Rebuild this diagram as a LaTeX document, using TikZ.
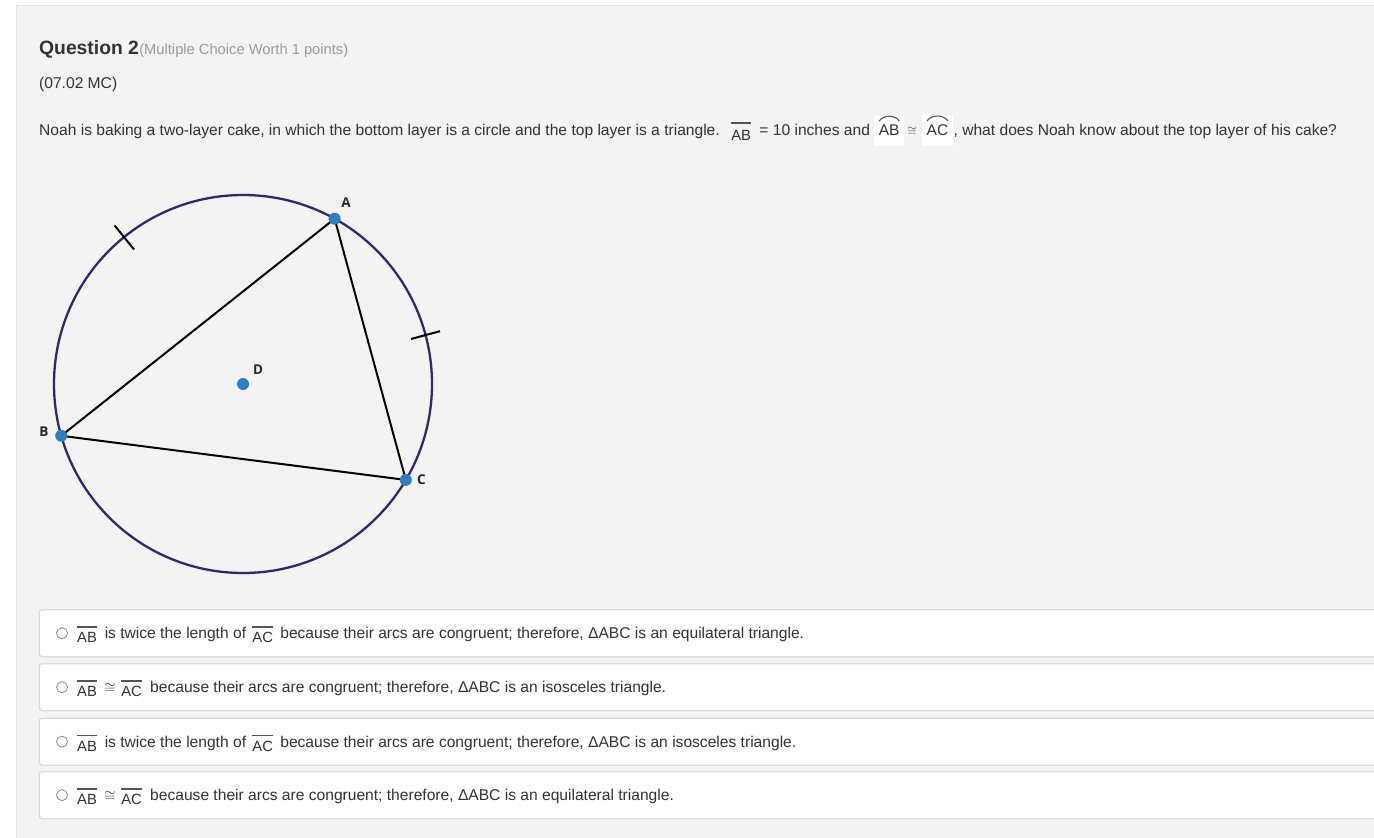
\documentclass[tikz,border=0pt]{standalone}
\usepackage{fontspec}
\setmainfont{Liberation Sans}
\newfontfamily\lblfont{Open Sans}
\usetikzlibrary{calc}
\definecolor{panel}{HTML}{F3F3F3}
\definecolor{panelline}{HTML}{E2E2E2}
\definecolor{txt}{HTML}{333333}
\definecolor{subtxt}{HTML}{9A9A9A}
\definecolor{ring}{HTML}{2C2A6B}
\definecolor{dotc}{HTML}{2F7DC2}
\definecolor{boxline}{HTML}{DADADA}
\definecolor{segbar}{HTML}{555555}
\definecolor{radioc}{HTML}{8A8A8A}
% segment with overline: {lowering}{rule height}{letters}
\newcommand\ovseg[3]{\raisebox{-#1pt}{\fontsize{14.8}{16}\selectfont\setbox0\hbox{#3}\rlap{\color{segbar}\rule[#2pt]{\wd0}{1.2pt}}\box0}}
\newcommand\cgr{{\fontsize{13}{14}\selectfont$\cong$}}
\newcommand\cgrbig{{\fontsize{15}{16}\selectfont$\cong$}}
\newcommand\ansAB{\ovseg{4}{15}{AB}}
\newcommand\ansAC{\ovseg{4}{15}{AC}}
\tikzset{
  plain/.style={anchor=base west, inner sep=0pt, text=txt, font=\fontsize{15.6}{18}\selectfont},
  arcbox/.style={anchor=base west, fill=white, inner xsep=4.5pt, inner ysep=0pt, text height=20pt, text depth=11pt, text=txt, font=\fontsize{15.5}{18}\selectfont},
  arcmark/.style={draw=segbar, line width=1.1pt},
  answerbox/.style={draw=boxline, fill=white, line width=1.3pt, rounded corners=3pt, anchor=north west, minimum width=1360pt, minimum height=47pt, inner sep=0pt},
  radio/.style={circle, draw=radioc, fill=white, line width=0.8pt, minimum size=11pt, inner sep=0pt},
  ring/.style={draw=ring, line width=2.3pt},
  side/.style={draw=black, line width=2pt},
  tick/.style={draw=black, line width=2pt},
  pt/.style={circle, fill=dotc, minimum size=12pt, inner sep=0pt},
  lbl/.style={text=black!85, font=\lblfont\bfseries\fontsize{13.5}{14}\selectfont, inner sep=0pt}
}
\begin{document}
\begin{tikzpicture}[x=1pt,y=1pt]
\useasboundingbox (0,0) rectangle (1374,-838);
\fill[white] (0,0) rectangle (1374,-838);
\clip (0,0) rectangle (1374,-838);
\filldraw[fill=panel, draw=panelline, line width=1pt] (16,-5.5) rectangle (1400,-860);

% header
\node[plain, font=\fontsize{19.3}{22}\selectfont\bfseries] (title) at (39,-54) {Question 2};
\node[plain, text=subtxt, font=\fontsize{14.7}{16}\selectfont] (worth) at (title.base east) {(Multiple Choice Worth 1 points)};
\node[plain] (code) at (39,-88) {(07.02 MC)};

% question line
\node[plain] (q1) at (39,-135) {Noah is baking a two-layer cake, in which the bottom layer is a circle and the top layer is a triangle.};
\node[plain] (q2) at ([xshift=11pt]q1.base east) {\ovseg{5}{16.5}{AB}};
\node[plain] (q3) at ([xshift=8pt]q2.base east) {= 10 inches and};
\node[arcbox] (q4) at ([xshift=4pt]q3.base east) {AB};
\draw[arcmark] ([xshift=5pt,yshift=14pt]q4.base west) to[bend left=55] ([xshift=-5pt,yshift=14pt]q4.base east);
\node[plain] (q5) at ([xshift=3pt]q4.base east) {\cgr};
\node[arcbox] (q6) at ([xshift=5pt]q5.base east) {AC};
\draw[arcmark] ([xshift=5pt,yshift=14pt]q6.base west) to[bend left=55] ([xshift=-5pt,yshift=14pt]q6.base east);
\node[plain] (q7) at ([xshift=0.5pt]q6.base east) {, what does Noah know about the top layer of his cake?};

% figure
\coordinate (D) at (243,-384);
\coordinate (A) at ($(D)+(61:189)$);
\coordinate (B) at ($(D)+(195.9:189)$);
\coordinate (C) at ($(D)+(-30.5:189)$);
\draw[ring] (D) circle[radius=189];
\draw[side] (A) -- (B) -- (C) -- cycle;
\draw[tick] ($(D)+(129:173)$) -- ($(D)+(129:204)$);
\draw[tick] ($(D)+(15:174)$) -- ($(D)+(15:204)$);
\node[pt] (pA) at (A) {};
\node[pt] (pB) at (B) {};
\node[pt] (pC) at (C) {};
\node[pt] (pD) at (D) {};
\node[lbl] (lA) at (346,-203) {A};
\node[lbl] (lB) at (44,-432) {B};
\node[lbl] (lC) at (421.5,-480) {C};
\node[lbl] (lD) at (258,-369.5) {D};

% answers
\node[answerbox] (b1) at (38.5,-609) {};
\node[answerbox] (b2) at (38.5,-663) {};
\node[answerbox] (b3) at (38.5,-717.5) {};
\node[answerbox] (b4) at (38.5,-771) {};
\foreach \i in {1,2,3,4} {
  \node[radio] (r\i) at ([xshift=23.5pt]b\i.west) {};
}
\node[plain] (a1) at ([xshift=38.5pt,yshift=-5.5pt]b1.west) {\ansAB\hspace{3.5pt} is twice the length of\hspace{2pt} \ansAC\hspace{3pt} because their arcs are congruent; therefore, ΔABC is an equilateral triangle.};
\node[plain] (a2) at ([xshift=38.5pt,yshift=-5.5pt]b2.west) {\ansAB\hspace{3pt} \cgrbig\hspace{1.5pt} \ansAC\hspace{4pt} because their arcs are congruent; therefore, ΔABC is an isosceles triangle.};
\node[plain] (a3) at ([xshift=38.5pt,yshift=-5.5pt]b3.west) {\ansAB\hspace{3.5pt} is twice the length of\hspace{2pt} \ansAC\hspace{3pt} because their arcs are congruent; therefore, ΔABC is an isosceles triangle.};
\node[plain] (a4) at ([xshift=38.5pt,yshift=-5.5pt]b4.west) {\ansAB\hspace{3pt} \cgrbig\hspace{1.5pt} \ansAC\hspace{4pt} because their arcs are congruent; therefore, ΔABC is an equilateral triangle.};
\end{tikzpicture}
\end{document}
